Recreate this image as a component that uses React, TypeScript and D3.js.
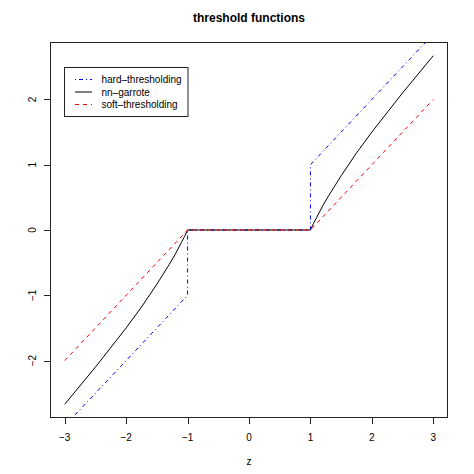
import React, { useEffect, useRef } from "react";
import * as d3 from "d3";

// threshold rules sampled along z
const hardZ = [-3, -1, -1, 1, 1, 3];
const hardY = [-3, -1, 0, 0, 1, 3];

const garroteZ = [
  -3, -2.5, -2, -1.75, -1.5, -1.3, -1.2, -1.1, -1.05, -1, 1, 1.05, 1.1, 1.2,
  1.3, 1.5, 1.75, 2, 2.5, 3,
];
const garroteY = [
  -2.67, -2.1, -1.5, -1.18, -0.83, -0.53, -0.37, -0.19, -0.1, 0, 0, 0.1, 0.19,
  0.37, 0.53, 0.83, 1.18, 1.5, 2.1, 2.67,
];

const softZ = [-3, -1, 1, 3];
const softY = [-2, 0, 0, 2];

const xTicks = [-3, -2, -1, 0, 1, 2, 3];
const yTicks = [-2, -1, 0, 1, 2];

const legendLabels = ["hard–thresholding", "nn–garrote", "soft–thresholding"];
const legendColors = ["blue", "black", "red"];
const legendDash = ["1,3,4,3", null, "4,4"];

const fmt = (v: number) => (v < 0 ? "\u2212" + Math.abs(v) : String(v));

const App = () => {
  const ref = useRef(null);

  useEffect(() => {
    document.body.style.margin = "0";
    const width = 474;
    const height = 474;
    const left = 50;
    const right = 448;
    const top = 42;
    const bottom = 418;
    const font = "'Liberation Sans', Arial, Helvetica, sans-serif";

    d3.select(ref.current).selectAll("*").remove();
    const svg = d3
      .select(ref.current)
      .append("svg")
      .attr("width", width)
      .attr("height", height)
      .style("display", "block")
      .style("background", "#fff");

    // R-style 4% padding around the data range
    const x = d3.scaleLinear().domain([-3.24, 3.24]).range([left, right]);
    const y = d3.scaleLinear().domain([-2.88, 2.88]).range([bottom, top]);

    svg
      .append("clipPath")
      .attr("id", "plot-clip")
      .append("rect")
      .attr("x", left)
      .attr("y", top)
      .attr("width", right - left)
      .attr("height", bottom - top);

    const line: any = d3
      .line()
      .x((d) => x(d[0]))
      .y((d) => y(d[1]));

    const plot = svg.append("g").attr("clip-path", "url(#plot-clip)");

    const series = [
      { z: hardZ, v: hardY },
      { z: garroteZ, v: garroteY },
      { z: softZ, v: softY },
    ];

    series.forEach((s, i) => {
      const pts = s.z.map((z, k) => [z, s.v[k]]);
      const path = plot
        .append("path")
        .attr("d", line(pts))
        .style("fill", "none")
        .style("stroke", legendColors[i])
        .style("stroke-width", "1px");
      if (legendDash[i]) path.style("stroke-dasharray", legendDash[i]);
    });

    // frame
    svg
      .append("rect")
      .attr("x", left + 0.5)
      .attr("y", top + 0.5)
      .attr("width", right - left - 1)
      .attr("height", bottom - top - 1)
      .style("fill", "none")
      .style("stroke", "#222")
      .style("stroke-width", "1px");

    // x axis
    const xAxis = svg.append("g");
    xAxis
      .selectAll("line")
      .data(xTicks)
      .enter()
      .append("line")
      .attr("x1", (d) => Math.round(x(d)) + 0.5)
      .attr("x2", (d) => Math.round(x(d)) + 0.5)
      .attr("y1", bottom)
      .attr("y2", bottom + 6)
      .style("stroke", "#222");
    xAxis
      .selectAll("text")
      .data(xTicks)
      .enter()
      .append("text")
      .attr("x", (d) => x(d))
      .attr("y", 441)
      .attr("text-anchor", "middle")
      .style("font-family", font)
      .style("font-size", "10px")
      .text((d) => fmt(d));

    // y axis
    const yAxis = svg.append("g");
    yAxis
      .selectAll("line")
      .data(yTicks)
      .enter()
      .append("line")
      .attr("x1", left)
      .attr("x2", left - 6)
      .attr("y1", (d) => Math.round(y(d)) + 0.5)
      .attr("y2", (d) => Math.round(y(d)) + 0.5)
      .style("stroke", "#222");
    yAxis
      .selectAll("text")
      .data(yTicks)
      .enter()
      .append("text")
      .attr("transform", (d) => `translate(36,${y(d)}) rotate(-90)`)
      .attr("text-anchor", "middle")
      .style("font-family", font)
      .style("font-size", "10px")
      .text((d) => fmt(d));

    // labels
    svg
      .append("text")
      .attr("x", (left + right) / 2)
      .attr("y", 22)
      .attr("text-anchor", "middle")
      .style("font-family", font)
      .style("font-size", "12px")
      .style("font-weight", "bold")
      .text("threshold functions");
    svg
      .append("text")
      .attr("x", (left + right) / 2)
      .attr("y", 465)
      .attr("text-anchor", "middle")
      .style("font-family", font)
      .style("font-size", "10px")
      .text("z");

    // legend
    const legend = svg.append("g");
    legend
      .append("rect")
      .attr("x", 64.5)
      .attr("y", 67.5)
      .attr("width", 123.5)
      .attr("height", 49)
      .style("fill", "#fff")
      .style("stroke", "#222");
    legendLabels.forEach((label, i) => {
      const cy = 79.5 + i * 12.5;
      const seg = legend
        .append("line")
        .attr("x1", 75)
        .attr("x2", 92)
        .attr("y1", cy)
        .attr("y2", cy)
        .style("stroke", legendColors[i]);
      if (legendDash[i]) seg.style("stroke-dasharray", legendDash[i]);
      legend
        .append("text")
        .attr("x", 101.5)
        .attr("y", cy + 3.6)
        .style("font-family", font)
        .style("font-size", "10px")
        .text(label);
    });
  }, []);

  return <div ref={ref}></div>;
};

export default App;
